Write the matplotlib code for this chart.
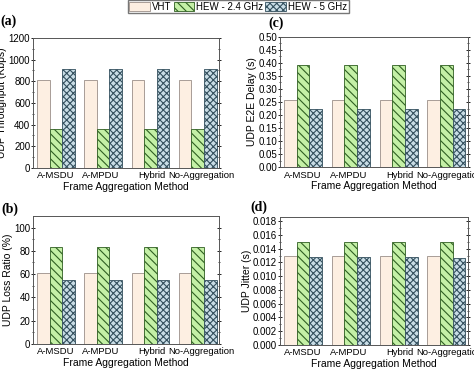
import numpy as np
import matplotlib
matplotlib.use('Agg')
import matplotlib.pyplot as plt
from matplotlib.patches import Patch

plt.rcParams['font.family'] = ['Liberation Sans', 'DejaVu Sans']
plt.rcParams['hatch.linewidth'] = 0.8

methods = ['A-MSDU', 'A-MPDU', 'Hybrid', 'No-Aggregation']
series = ['VHT', 'HEW - 2.4 GHz', 'HEW - 5 GHz']

throughput_vht = [815, 815, 815, 815]
throughput_hew24 = [360, 360, 360, 360]
throughput_hew5 = [915, 915, 915, 915]

loss_vht = [60.5, 60.5, 60.5, 60.5]
loss_hew24 = [83.5, 83.5, 83.5, 83.5]
loss_hew5 = [55.0, 55.0, 55.0, 55.0]

delay_vht = [0.257, 0.257, 0.257, 0.257]
delay_hew24 = [0.392, 0.392, 0.392, 0.392]
delay_hew5 = [0.223, 0.223, 0.223, 0.223]

jitter_vht = [0.0129, 0.0129, 0.0129, 0.0129]
jitter_hew24 = [0.0149, 0.0149, 0.0149, 0.0149]
jitter_hew5 = [0.0128, 0.0128, 0.0128, 0.0127]

styles = [dict(facecolor='#fdefe2', edgecolor='#9a8f88', hatch=None),
          dict(facecolor='#c4f0a6', edgecolor='#2f5f22', hatch='\\\\\\\\'),
          dict(facecolor='#c9dde6', edgecolor='#34505e', hatch='xxxxx')]

fig = plt.figure(figsize=(4.74, 3.69), dpi=100)

# tag, axes rect, tag position (px), data, ylabel, ylim, yticks, format
panels = [
    ('(a)', [0.070, 0.545, 0.392, 0.352], (0, 28), [throughput_vht, throughput_hew24, throughput_hew5],
     'UDP Throughput (Kbps)', (0, 1200), np.arange(0, 1201, 200), '%d'),
    ('(c)', [0.591, 0.547, 0.396, 0.353], (268, 30), [delay_vht, delay_hew24, delay_hew5],
     'UDP E2E Delay (s)', (0, 0.5), np.arange(0, 0.501, 0.05), '%.2f'),
    ('(b)', [0.070, 0.068, 0.392, 0.347], (1, 216), [loss_vht, loss_hew24, loss_hew5],
     'UDP Loss Ratio (%)', (0, 110), np.arange(0, 101, 20), '%d'),
    ('(d)', [0.591, 0.065, 0.396, 0.347], (250, 214), [jitter_vht, jitter_hew24, jitter_hew5],
     'UDP Jitter (s)', (0, 0.0186), np.arange(0, 0.0181, 0.002), '%.3f'),
]

x = np.arange(len(methods))
w = 0.265
for tag, rect, tpos, data, ylab, ylim, yt, fmt in panels:
    ax = fig.add_axes(rect)
    for i, vals in enumerate(data):
        st = styles[i]
        ax.bar(x + (i - 1) * w, vals, w, facecolor=st['facecolor'],
               edgecolor=st['edgecolor'], hatch=st['hatch'], linewidth=0.6)
    ax.set_xlim(-0.48, 3.45)
    ax.set_ylim(*ylim)
    ax.set_yticks(yt)
    ax.set_yticklabels([fmt % v for v in yt], fontsize=7)
    ax.set_yticks((yt[:-1] + yt[1:]) / 2, minor=True)
    ax.set_xticks(x + np.array([0, -0.05, 0.02, 0.07]))
    ax.set_xticklabels(methods, fontsize=6.8)
    ax.set_ylabel(ylab, fontsize=7.5, labelpad=1)
    ax.set_xlabel('Frame Aggregation Method', fontsize=7.5, labelpad=1)
    ax.tick_params(axis='x', which='major', length=0, pad=2.5)
    ax.tick_params(axis='y', which='major', length=2.2, width=0.6, pad=1)
    ax.tick_params(axis='y', which='minor', length=1.3, width=0.5)
    ax.tick_params(axis='y', right=True, which='both', direction='inout')
    for s in ax.spines.values():
        s.set_linewidth(0.7)
        s.set_color('#555555')
    fig.text(tpos[0] / 474, 1 - tpos[1] / 369, tag, fontsize=10, fontweight='bold',
             family='Liberation Serif', ha='left', va='bottom')

handles = [Patch(facecolor=st['facecolor'], edgecolor=st['edgecolor'], hatch=st['hatch'],
                 linewidth=0.6) for st in styles]
fig.legend(handles, series, loc='upper center', bbox_to_anchor=(0.503, 1.002), ncol=3,
           fontsize=7, frameon=True, fancybox=False, edgecolor='#555555',
           handlelength=2.1, handleheight=1.1, columnspacing=0.2, handletextpad=0.25,
           borderpad=0.15, borderaxespad=0.1)

fig.savefig('out.png', dpi=100)
